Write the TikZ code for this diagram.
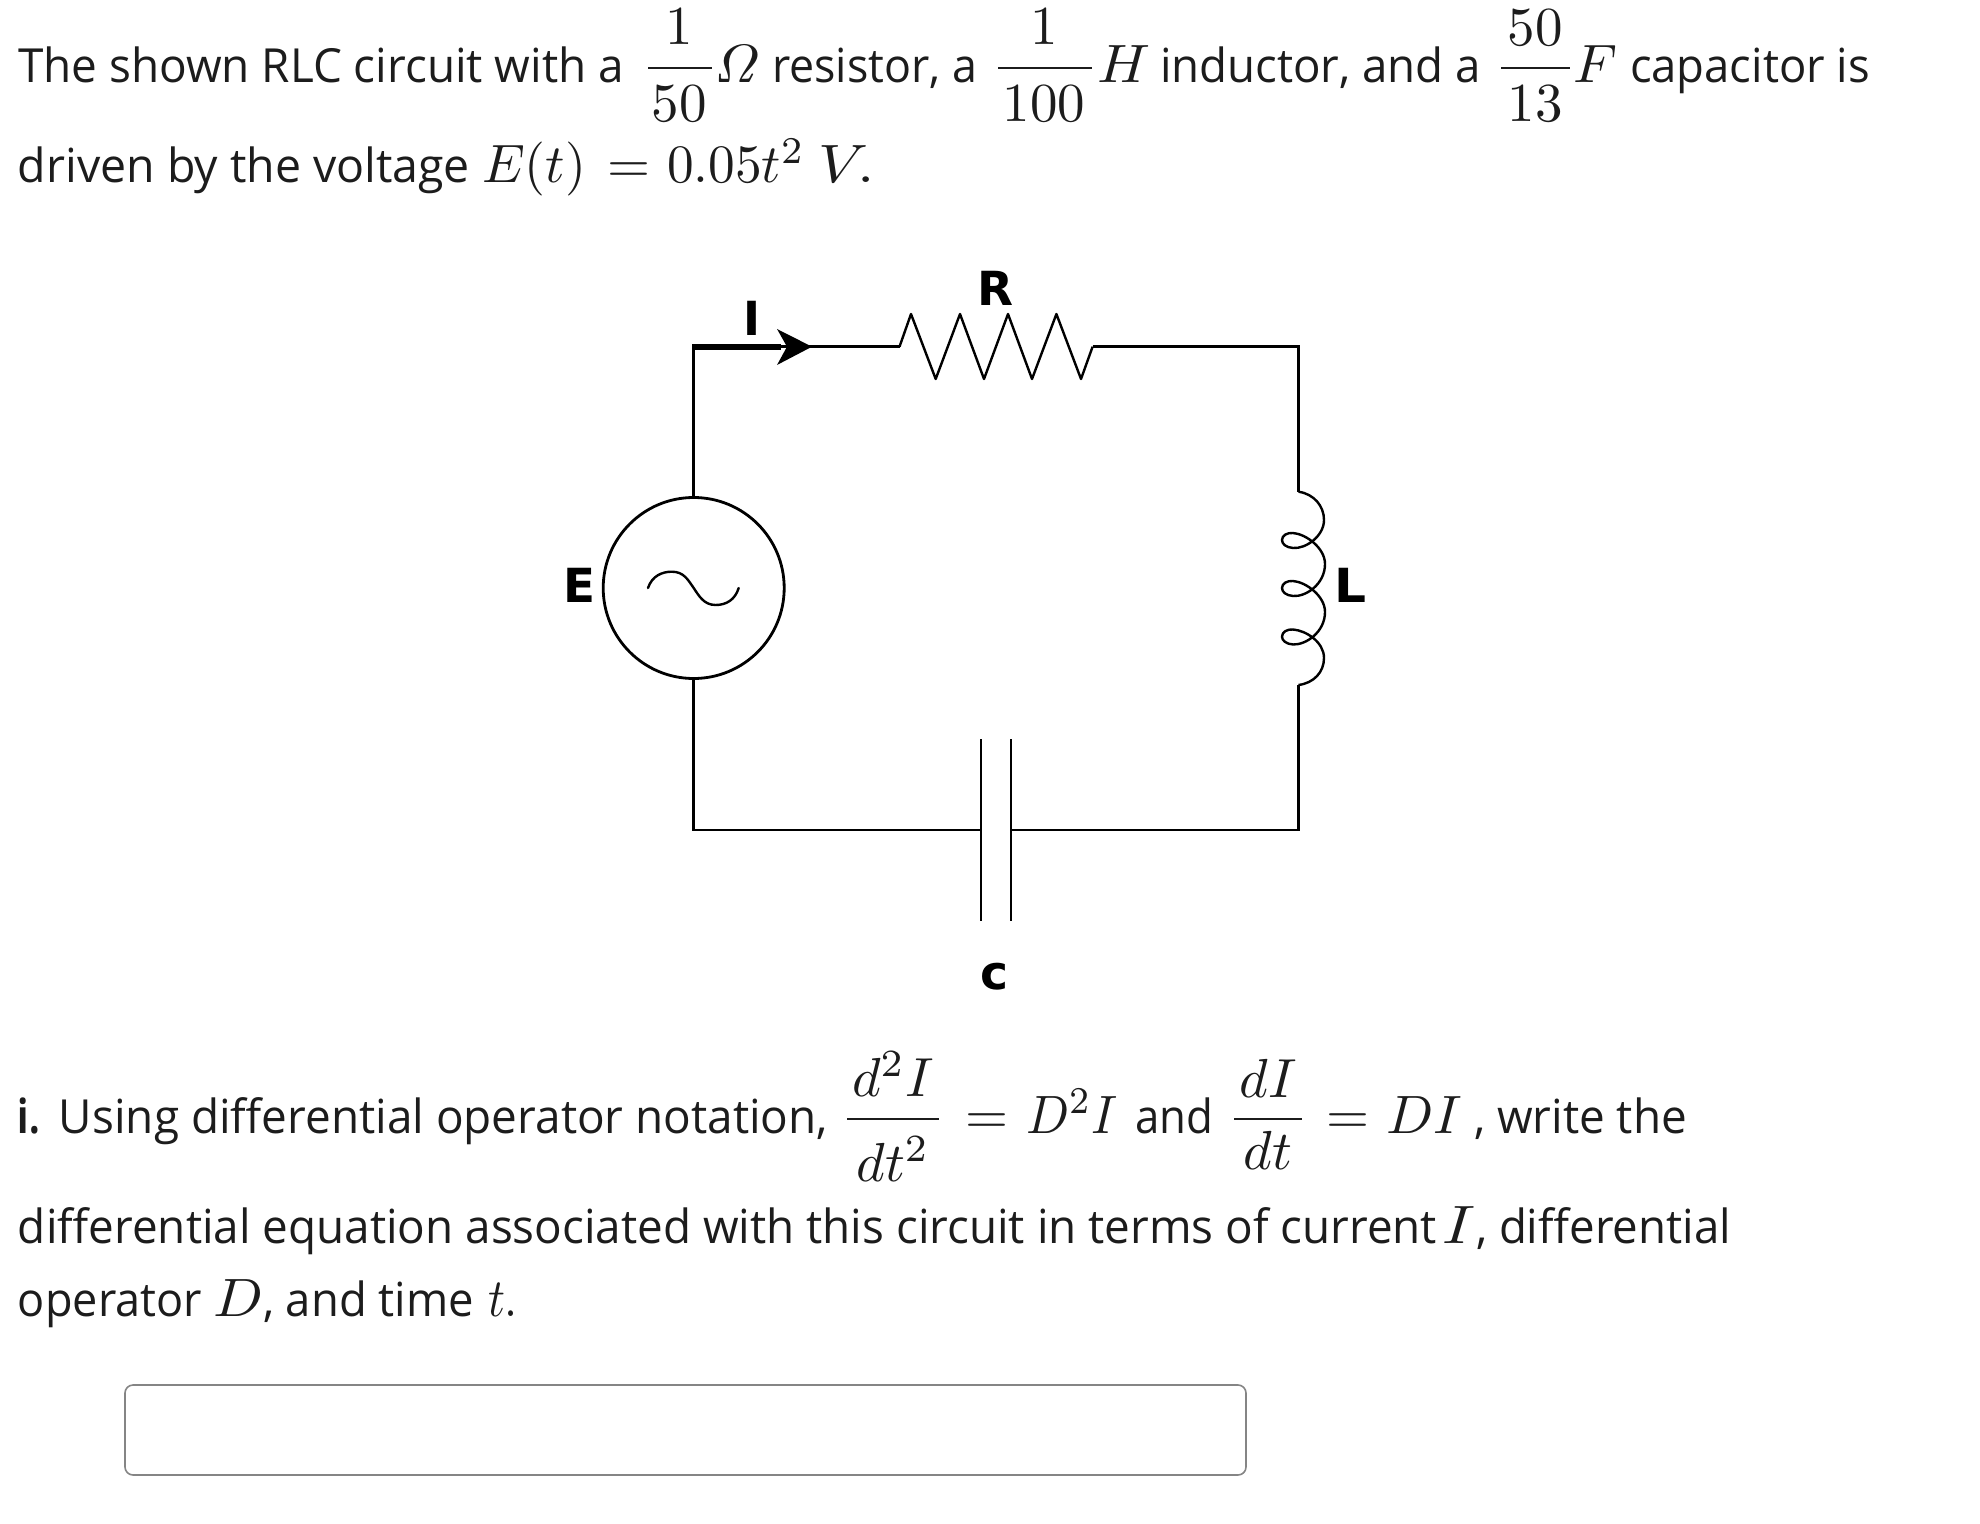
\documentclass[tikz,border=0pt]{standalone}
\usepackage[no-math]{fontspec}
\usepackage{graphicx}
\newfontfamily\sgf{Open Sans}
\newfontfamily\bdf{DejaVu Sans}
\newdimen\pxu \pxu=0.5pt
\definecolor{ink}{HTML}{1C1C1C}
\definecolor{boxgray}{HTML}{858585}
\tikzset{
  x=0.5pt,y=-0.5pt,
  sgtext/.style={anchor=base west,inner sep=0pt,outer sep=0pt,text=ink,font=\sgf\fontsize{23.5}{28}\selectfont},
  mathtext/.style={anchor=base west,inner sep=0pt,outer sep=0pt,text=ink,font=\fontsize{10}{12}\selectfont},
  fracpart/.style={anchor=base,inner sep=0pt,outer sep=0pt,text=ink,font=\fontsize{10}{12}\selectfont},
  circlabel/.style={anchor=base,inner sep=0pt,outer sep=0pt,text=black,font=\bdf\bfseries\fontsize{23.5}{28}\selectfont},
  wire/.style={line width=1.4pt,black,line join=miter},
  thinwire/.style={line width=1.2pt,black,line join=round},
  fracbar/.style={line width=1.3pt,ink},
  answerbox/.style={draw=boxgray,line width=0.8pt,rounded corners=4pt}
}
\newcommand{\stx}[5]{\node[sgtext] (#1) at (#2,#3) {\resizebox{#4\pxu}{\height}{#5}};}
\newcommand{\mtx}[5]{\node[mathtext] (#1) at (#2,#3) {\resizebox{#4\pxu}{2.7\height}{$#5$}};}
\newcommand{\fpt}[4]{\node[fracpart] (#1) at (#2,#3) {\scalebox{2.75}{$#4$}};}
\begin{document}
\begin{tikzpicture}
\useasboundingbox (0,0) rectangle (1980,1524);
% ---- top text
\stx{t1}{18}{83}{606}{The shown RLC circuit with a}
\fpt{f1n}{679}{45}{1}
\fpt{f1d}{679}{122}{50}
\coordinate (f1l) at (648,68); \coordinate (f1r) at (712,68);
\draw[fracbar] (f1l) -- (f1r);
\mtx{om}{713}{83}{48}{\mathit{\Omega}}
\stx{t2}{772}{83}{205}{resistor, a}
\fpt{f2n}{1044}{45}{1}
\fpt{f2d}{1044}{122}{100}
\coordinate (f2l) at (998,68); \coordinate (f2r) at (1092,68);
\draw[fracbar] (f2l) -- (f2r);
\mtx{hh}{1097}{83}{53}{H}
\stx{t3}{1160}{83}{321}{inductor, and a}
\fpt{f3n}{1535}{46}{50}
\fpt{f3d}{1535}{122}{13}
\coordinate (f3l) at (1501,68); \coordinate (f3r) at (1570,68);
\draw[fracbar] (f3l) -- (f3r);
\mtx{ff}{1573}{83}{44}{F}
\stx{t4}{1630}{83}{240}{capacitor is}
\stx{t5}{18}{183}{452}{driven by the voltage}
\mtx{m1}{482}{183}{104}{E(t)}
\mtx{m2}{607}{183}{43}{=}
\mtx{m3}{667}{183}{138}{0.05t^{2}}
\mtx{m4}{818}{183}{57}{V.}
% ---- circuit coordinates
\node[draw=black,line width=1.4pt,circle,minimum size=181\pxu,inner sep=0pt,outer sep=0pt] (src) at (693.7,588) {};
\coordinate (tl) at (693.7,346.7);
\coordinate (tr) at (1298.5,346.7);
\coordinate (bl) at (693.7,830);
\coordinate (br) at (1298.5,830);
\coordinate (arrowtail) at (781,346.7);
\coordinate (arrowtip) at (812,346.7);
\coordinate (resin) at (899.5,346.7);
\coordinate (resout) at (1092.6,346.7);
\coordinate (coilin) at (1298.5,491.7);
\coordinate (coilout) at (1298.5,685);
\coordinate (capl) at (980.7,830);
\coordinate (capr) at (1010.9,830);
% wires
\draw[wire] (src.north) -- (tl) -- (arrowtip);
\draw[wire] (src.south) -- (bl) -- (capl);
\draw[wire] (arrowtip) -- (resin);
\draw[wire] (resout) -- (tr) -- (coilin);
\draw[wire] (coilout) -- (br) -- (capr);
% current arrow
\draw[line width=2.9pt,black] (692.3,346.7) -- (arrowtail);
\fill[black] (777,329) -- (arrowtip) -- (777,365) -- (787,346.7) -- cycle;
% resistor
\draw[thinwire] (resin) -- (911,314) -- (935.7,379) -- (960,314) -- (984,379) -- (1008,314) -- (1032,379) -- (1056.4,314) -- (1081,379) -- (resout);
% inductor
\draw[thinwire] (coilin)
  .. controls (1314,494) and (1324,506) .. (1324,520)
  .. controls (1324,536) and (1306,549) .. (1293,548)
  .. controls (1286,547.5) and (1282,544) .. (1282,540)
  .. controls (1282,535.5) and (1287,532.5) .. (1293,533)
  .. controls (1306,534) and (1325,548) .. (1325,564)
  .. controls (1325,584) and (1306,597) .. (1293,596)
  .. controls (1286,595.5) and (1282,592) .. (1282,588)
  .. controls (1282,583.5) and (1287,580.5) .. (1293,581)
  .. controls (1306,582) and (1325,596) .. (1325,612)
  .. controls (1325,632) and (1306,645) .. (1293,644.5)
  .. controls (1286,644) and (1282,640.5) .. (1282,636.7)
  .. controls (1282,632) and (1287,629) .. (1293,629.5)
  .. controls (1306,630.5) and (1324,642) .. (1324,658)
  .. controls (1324,672) and (1314,683) .. (coilout);
% capacitor
\coordinate (c1t) at (980.7,739.3); \coordinate (c1b) at (980.7,920.7);
\coordinate (c2t) at (1010.9,739.3); \coordinate (c2b) at (1010.9,920.7);
\draw[thinwire] (c1t) -- (c1b);
\draw[thinwire] (c2t) -- (c2b);
% sine
\draw[thinwire,line cap=round] (648,588) .. controls (652,576) and (662,571.7) .. (671.7,571.7)
  .. controls (684,571.7) and (688,580) .. (693.7,588)
  .. controls (699,596) and (704,605) .. (715.6,605)
  .. controls (726,605) and (735,600) .. (738.7,588);
% circuit labels
\node[circlabel] (lR) at (995,306) {\resizebox{36\pxu}{\height}{R}};
\node[circlabel] (lI) at (752,336) {\resizebox{17\pxu}{\height}{I}};
\node[circlabel] (lE) at (579,602) {\resizebox{32\pxu}{\height}{E}};
\node[circlabel] (lL) at (1350,602) {\resizebox{32\pxu}{\height}{L}};
\node[circlabel] (lC) at (994,989) {\resizebox{28\pxu}{\height}{c}};
% ---- bottom text
\node[sgtext,font=\sgf\bfseries\fontsize{23.5}{28}\selectfont] (b0) at (18,1133) {\resizebox{22\pxu}{\height}{i.}};
\stx{b1}{59}{1133}{769}{Using differential operator notation,}
\fpt{g1n}{893}{1096}{d^{2}I}
\fpt{g1d}{893}{1181}{dt^{2}}
\coordinate (g1l) at (847,1119); \coordinate (g1r) at (939,1119);
\draw[fracbar] (g1l) -- (g1r);
\mtx{b2}{965}{1133}{43}{=}
\mtx{b3}{1026}{1133}{92}{D^{2}I}
\stx{b4}{1135}{1133}{78}{and}
\fpt{g2n}{1268}{1097}{dI}
\fpt{g2d}{1268}{1169}{dt}
\coordinate (g2l) at (1234,1119); \coordinate (g2r) at (1302,1119);
\draw[fracbar] (g2l) -- (g2r);
\mtx{b5}{1326}{1133}{43}{=}
\mtx{b6}{1386}{1133}{76}{DI}
\stx{b7}{1474}{1133}{213}{, write the}
\stx{c1}{18}{1243}{1419}{differential equation associated with this circuit in terms of current}
\mtx{c2}{1442}{1243}{33}{I}
\stx{c3}{1476}{1243}{255}{, differential}
\stx{d1}{18}{1316}{184}{operator}
\mtx{d2}{213}{1316}{50}{D}
\stx{d3}{263}{1316}{211}{, and time}
\mtx{d4}{488}{1316}{30}{t.}
% ---- answer box
\node[answerbox,minimum width=1121\pxu,minimum height=90\pxu,inner sep=0pt,outer sep=0pt] (answer) at (685.5,1430) {};
\end{tikzpicture}
\end{document}
